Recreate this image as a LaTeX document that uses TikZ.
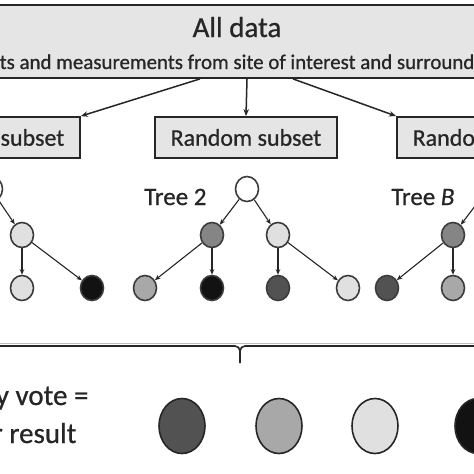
\documentclass[tikz,border=0pt]{standalone}
\usepackage{fontspec}
\setmainfont{Carlito}[FakeBold=0.7]
\usetikzlibrary{shapes.geometric,arrows.meta,positioning}

\definecolor{boxgray}{gray}{0.90}
\definecolor{inkgray}{gray}{0.15}
\definecolor{shadegray}{gray}{0.75}
\definecolor{pale}{gray}{0.88}
\definecolor{lightmid}{gray}{0.66}
\definecolor{midgray}{gray}{0.52}
\definecolor{darkgray}{gray}{0.32}
\definecolor{nearblack}{gray}{0.07}

\tikzset{
  databox/.style={draw=inkgray,line width=1.8pt,fill=boxgray,inner sep=0pt},
  subsetbox/.style={databox,minimum width=182pt,minimum height=41pt,
    font=\fontsize{24}{28}\selectfont,text=inkgray},
  treenode/.style={ellipse,draw=inkgray!90,line width=1.6pt,
    minimum width=23pt,minimum height=25pt,inner sep=0pt},
  votenode/.style={ellipse,draw=inkgray,line width=1.6pt,
    minimum width=46pt,minimum height=55pt,inner sep=0pt},
  split/.style={-{Stealth[length=7pt,width=5.5pt]},line width=1.5pt,inkgray},
  branch/.style={-{Stealth[length=5.5pt,width=4.5pt]},line width=1.1pt,inkgray},
  treelabel/.style={anchor=base east,font=\fontsize{25}{28}\selectfont,text=inkgray},
  votetext/.style={anchor=base east,font=\fontsize{29}{32}\selectfont,text=inkgray},
}

\begin{document}
\begin{tikzpicture}[x=1pt,y=-1pt]
  \useasboundingbox (0,0) rectangle (474,474);
  \clip (0,0) rectangle (474,474);
  \fill[white] (0,0) rectangle (474,474);

  % all data
  \node[databox,minimum width=560pt,minimum height=73pt] (all) at (237,41.5) {};
  \node[anchor=base,font=\fontsize{29}{32}\selectfont,text=inkgray] (alltitle) at (237,37) {All data};
  \node[anchor=base,font=\fontsize{20.9}{24}\selectfont,text=inkgray] (allsub) at (237,69)
    {ts and measurements from site of interest and surround};

  % subsets
  \node[subsetbox] (subset1) at (-11,137.5) {Random subset};
  \node[subsetbox] (subset2) at (246,137.5) {Random subset};
  \node[subsetbox] (subsetB) at (488,137.5) {Random subset};

  \draw[split] ([xshift=-37pt]all.south) -- (subset1.north east);
  \draw[split] ([xshift=10pt]all.south) -- (subset2.north);
  \draw[split] ([xshift=56pt]all.south) -- (subsetB.north west);

  % tree 1
  \node[treenode,fill=white] (tree1root) at (-9,189) {};
  \node[treenode,fill=pale] (tree1r) at (22,235) {};
  \node[treenode,fill=pale] (tree1rl) at (22,288) {};
  \node[treenode,fill=nearblack] (tree1rr) at (92,288) {};
  \draw[branch] (tree1root) -- (tree1r);
  \draw[branch] (tree1r) -- (tree1rl);
  \draw[branch] (tree1r) -- (tree1rr);

  % tree 2
  \node[treelabel] (tree2label) at (210,205) {Tree 2};
  \node[treenode,fill=white] (tree2root) at (247,189) {};
  \node[treenode,fill=midgray] (tree2l) at (212,235) {};
  \node[treenode,fill=pale] (tree2r) at (278,235) {};
  \node[treenode,fill=lightmid] (tree2ll) at (145,288) {};
  \node[treenode,fill=nearblack] (tree2lr) at (212,288) {};
  \node[treenode,fill=darkgray] (tree2rl) at (278,288) {};
  \node[treenode,fill=pale] (tree2rr) at (348,288) {};
  \draw[branch] (tree2root) -- (tree2l);
  \draw[branch] (tree2root) -- (tree2r);
  \draw[branch] (tree2l) -- (tree2ll);
  \draw[branch] (tree2l) -- (tree2lr);
  \draw[branch] (tree2r) -- (tree2rl);
  \draw[branch] (tree2r) -- (tree2rr);

  % tree B
  \node[treelabel] (treeBlabel) at (458,205) {Tree \textit{B}};
  \node[treenode,fill=white] (treeBroot) at (488,189) {};
  \node[treenode,fill=midgray] (treeBl) at (453,235) {};
  \node[treenode,fill=darkgray] (treeBll) at (387,288) {};
  \node[treenode,fill=lightmid] (treeBlr) at (453,288) {};
  \draw[branch] (treeBroot) -- (treeBl);
  \draw[branch] (treeBl) -- (treeBll);
  \draw[branch] (treeBl) -- (treeBlr);

  % majority vote
  \coordinate (braceleft) at (-10,346);
  \coordinate (braceright) at (484,346);
  \coordinate (bracetip) at (240,363);
  \draw[shadegray,line width=1.6pt] ([yshift=2.5pt]braceleft) -- ([yshift=2.5pt]braceright);
  \draw[inkgray,line width=1.6pt] (braceleft) -- (235,346) to[out=0,in=90] (bracetip |- 0,351) -- (bracetip);
  \draw[inkgray,line width=1.6pt] (braceright) -- (245,346) to[out=180,in=90] (bracetip |- 0,351);

  \node[votetext] (votetop) at (92,405) {Majority vote =};
  \node[votetext] (votebottom) at (80,443) {r result};

  \node[votenode,fill=darkgray] (vote1) at (182,426) {};
  \node[votenode,fill=lightmid] (vote2) at (279,426) {};
  \node[votenode,fill=pale] (vote3) at (375,426) {};
  \node[votenode,fill=nearblack] (vote4) at (478,426) {};
\end{tikzpicture}
\end{document}
